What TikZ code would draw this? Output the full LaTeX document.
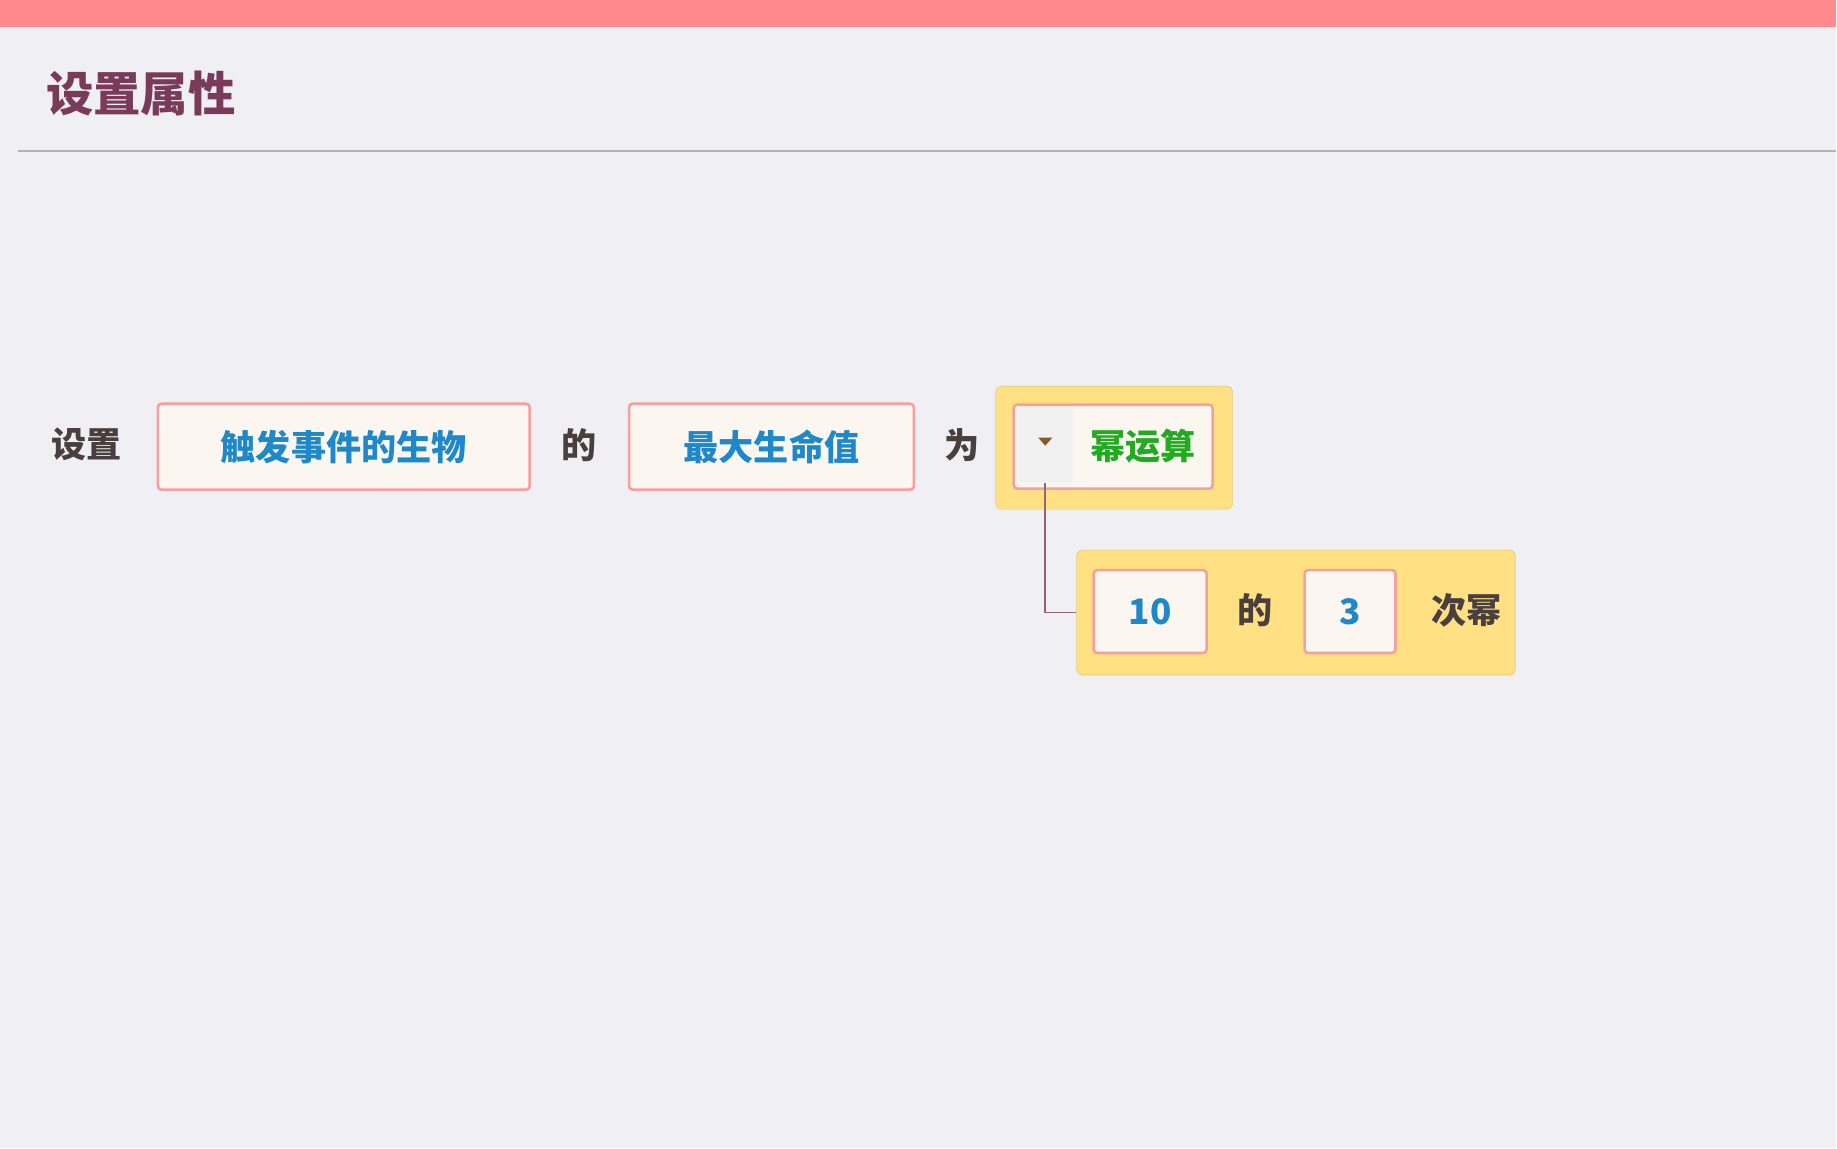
\documentclass[tikz,border=0pt]{standalone}
\usepackage{fontspec}
\setmainfont{Noto Sans CJK SC}
\usepackage{tikz}
\usetikzlibrary{positioning,calc}
\definecolor{bgcol}{HTML}{F0EFF4}
\definecolor{barcol}{HTML}{FF8A8E}
\definecolor{slotcol}{HTML}{FBF6F0}
\definecolor{edgecol}{HTML}{F4A0A0}
\definecolor{blockcol}{HTML}{FFE083}
\definecolor{bluetxt}{HTML}{1E88C8}
\definecolor{greentxt}{HTML}{22AA22}
\definecolor{darktxt}{HTML}{4A3F3F}
\definecolor{titlecol}{HTML}{7A3B5A}

\begin{document}
\begin{tikzpicture}[x=0.02cm,y=-0.02cm,
                    slot node/.style={draw=edgecol,line width=1.5pt,fill=slotcol,rounded corners=2pt,
                                      text=bluetxt,font=\fontsize{20}{22}\selectfont\bfseries,inner sep=0pt},
                    word node/.style={text=darktxt,font=\fontsize{20}{22}\selectfont\bfseries},
                    block node/.style={fill=blockcol,draw=blockcol!80!gray,rounded corners=3pt,inner sep=0pt}]

       \fill[bgcol] (0,0) rectangle (1837,1149);
       \fill[barcol] (0,0) rectangle (1837,27);
       \node[anchor=west,text=titlecol,font=\fontsize{27}{30}\selectfont\bfseries] (title) at (40,94) {设置属性};
       \draw[gray!60,line width=1.5pt] (18,151) -- (1837,151);

       % first row
       \node[word node] (set) at (87,445) {设置};
       \node[slot node,minimum width=7.44cm,minimum height=1.72cm] (who) at (344,447) {触发事件的生物};
       \node[word node] (of1) at (579,445) {的};
       \node[slot node,minimum width=5.7cm,minimum height=1.72cm] (attr) at (772,447) {最大生命值};
       \node[word node] (as) at (963,445) {为};

       % power block
       \node[block node,minimum width=4.74cm,minimum height=2.46cm] (pow) at (1115,448) {};
       \node[slot node,minimum width=3.98cm,minimum height=1.68cm,text=greentxt] (op) at (1114,447) {\hspace*{1.2cm}幂运算};
       \node[fill=gray!12,rounded corners=1pt,minimum width=1.1cm,minimum height=1.5cm,inner sep=0pt] (drop) at (1046,445) {};
       \fill[brown!70!black] ($(drop)+(-7,-7)$) -- ($(drop)+(7,-7)$) -- ($(drop)+(0,1)$) -- cycle;

       % argument block
       \node[block node,minimum width=8.78cm,minimum height=2.5cm] (args) at (1297,613) {};
       \node[slot node,minimum width=2.26cm,minimum height=1.66cm] (base) at (1151,612) {10};
       \node[word node] (of2) at (1256,611) {的};
       \node[slot node,minimum width=1.82cm,minimum height=1.66cm] (exp) at (1351,612) {3};
       \node[word node] (times) at (1468,611) {次幂};

       \draw[titlecol!80,line width=1pt] (drop.south) |- (args.west);

    \end{tikzpicture}
\end{document}
